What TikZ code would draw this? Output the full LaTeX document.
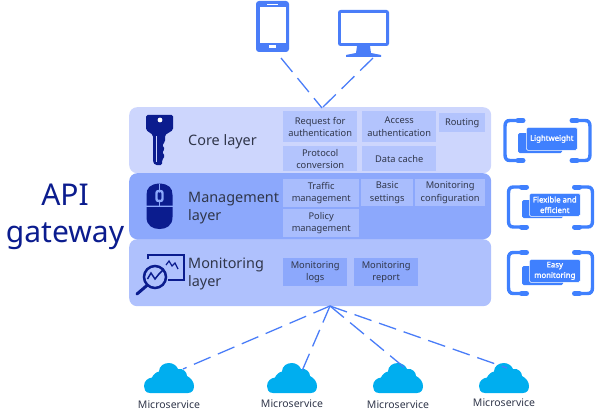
\documentclass[tikz,border=0pt]{standalone}
\usepackage{fontspec}
\setmainfont{Noto Sans}
\usetikzlibrary{positioning, calc}

\definecolor{coreband}{HTML}{CDD6FD}
\definecolor{mgmtband}{HTML}{8CA8FC}
\definecolor{monband}{HTML}{AFC1FD}
\definecolor{coreitem}{HTML}{B3C4FD}
\definecolor{mgmtitem}{HTML}{A9BDFD}
\definecolor{linkblue}{HTML}{4A7DF8}
\definecolor{tagblue}{HTML}{3F80FE}
\definecolor{iconnavy}{HTML}{0B1C8E}
\definecolor{cloudblue}{HTML}{00AEEF}
\definecolor{inktext}{HTML}{30364A}

\newcommand{\itembox}[8]{%
  \node[item, fill=#1, minimum width=#4pt-#2pt, minimum height=#5pt-#3pt, anchor=north west] (#6) at (#2,#3) {#7\\#8};
}

\begin{document}
\begin{tikzpicture}[
  x=1pt, y=-1pt,
  band/.style={rectangle, rounded corners=8pt, minimum width=362pt, anchor=north west, inner sep=0pt},
  item/.style={rectangle, inner sep=0pt, align=center, font=\fontsize{9.3}{12.2}\selectfont, text=inktext},
  layer/.style={align=left, anchor=west, inner sep=0pt, font=\fontsize{14.4}{18.5}\selectfont, text=inktext},
  link/.style={linkblue, line width=1.3pt, dash pattern=on 18pt off 8pt},
  tagline/.style={tagblue, line width=3.4pt, line cap=round},
  tagblob/.style={tagblue, line width=5pt, line cap=round},
  tagtext/.style={rectangle, rounded corners=1.5pt, fill=tagblue, draw=white, line width=0.6pt, text=white, inner sep=0pt, align=center, font=\fontsize{7.8}{10.5}\selectfont\addfontfeature{FakeBold=1.5}},
  cloudlabel/.style={font=\fontsize{10.5}{12}\selectfont, text=inktext}
]
  \useasboundingbox (0,0) rectangle (595,420);

  % layers
  \node[band, fill=coreband, minimum height=66pt] (core) at (129,107) {};
  \node[band, fill=monband, minimum height=67pt] (mon) at (129,239) {};
  \node[band, fill=mgmtband, minimum height=66pt] (mgmt) at (129,173) {};

  \node[layer] (corename) at (188,142) {Core layer};
  \node[layer] (mgmtname) at (188,208) {Management\\layer};
  \node[layer] (monname) at (188,274) {Monitoring\\layer};
  \node[align=center, text=iconnavy, font=\fontsize{30}{37}\selectfont] (title) at (65,217) {API\\gateway};

  % items
  \itembox{coreitem}{283}{111}{357}{142}{reqauth}{Request for}{authentication}
  \itembox{coreitem}{283}{146}{357}{171}{protocol}{Protocol}{conversion}
  \itembox{coreitem}{362}{111}{436}{142}{accauth}{Access}{authentication}
  \node[item, fill=coreitem, minimum width=74pt, minimum height=25pt, anchor=north west] (cache) at (362,146) {Data cache};
  \node[item, fill=coreitem, minimum width=46pt, minimum height=19pt, anchor=north west] (routing) at (439,113) {Routing};
  \itembox{mgmtitem}{283}{179}{359}{207}{traffic}{Traffic}{management}
  \itembox{mgmtitem}{283}{209}{359}{237}{policy}{Policy}{management}
  \itembox{mgmtitem}{361}{179}{413}{206}{basic}{Basic}{settings}
  \itembox{mgmtitem}{415}{179}{485}{206}{monconf}{Monitoring}{configuration}
  \itembox{mgmtband}{283}{258}{347}{286}{monlogs}{Monitoring}{logs}
  \itembox{mgmtband}{354}{258}{418}{286}{monreport}{Monitoring}{report}

  % key
  \fill[iconnavy, rounded corners=1.5pt] (146,115) -- (173,115) -- (173,130) -- (165,135) -- (165,142) -- (162,145) -- (165,149) -- (162,152) -- (165,156) -- (162,160) -- (162,165) -- (155,165) -- (153,162) -- (153,135) -- (146,130) -- cycle;
  \fill[white] (160,120) circle (2.4);
  \draw[coreband, line width=0.9pt] (156,136) -- (156,162);

  % mouse
  \fill[iconnavy] (146.5,207) -- (172.5,207) -- (172.5,217) .. controls (172.5,226) and (166,229) .. (159.5,229) .. controls (153,229) and (146.5,226) .. (146.5,217) -- cycle;
  \fill[iconnavy] (146.5,205.5) -- (146.5,195) .. controls (146.5,188) and (150,184) .. (159.5,183.5) .. controls (169,184) and (172.5,188) .. (172.5,195) -- (172.5,205.5) -- cycle;
  \draw[mgmtband, line width=0.8pt] (159.5,183.5) -- (159.5,205.5);
  \draw[mgmtband, line width=2.4pt, rounded corners=2pt] (156.5,191) rectangle (162.5,201);
  \fill[iconnavy, rounded corners=1pt] (158,192.5) rectangle (161,199.5);

  % monitor and lens
  \draw[iconnavy, line width=2pt] (148,259) -- (148,254.5) -- (184,254.5) -- (184,279.5) -- (168,279.5);
  \draw[iconnavy, line width=1.2pt] (166,265) -- (169,261) -- (172,266) -- (175,263) -- (178,269);
  \draw[iconnavy, line width=2.5pt] (155,277) circle (11);
  \draw[iconnavy, line width=1.5pt] (147.5,279) -- (151,273) -- (155,279) -- (159,274) -- (163,270);
  \draw[iconnavy, line width=3pt, line cap=round] (147.5,285) -- (137,294);

  % phone
  \fill[linkblue, rounded corners=3pt] (256,1) rectangle (289,52);
  \fill[white] (259.5,7) rectangle (285.5,43);
  \fill[white] (269,45.5) rectangle (276,48.5);
  \draw[white, line width=0.6pt] (267,4) -- (278,4);
  \coordinate (phone) at (281,58);

  % desktop
  \fill[linkblue, rounded corners=2.5pt] (338,10) rectangle (389,46);
  \fill[white] (341,13.5) rectangle (386,43);
  \fill[linkblue] (357,46) -- (370,46) -- (371,53) -- (381,55) -- (381,57) -- (346,57) -- (346,55) -- (356,53) -- cycle;
  \coordinate (desktop) at (373,58);

  \coordinate (tophub) at (322,108);
  \draw[link] (phone) -- (tophub);
  \draw[link] (desktop) -- (tophub);

  % clouds
  \foreach \cx/\ly/\cname in {144/405/one, 267/404/two, 373/405/three, 479/403/four} {
    \fill[cloudblue, shift={(\cx,363)}] (6,30) .. controls (1,30) and (0,26) .. (0,23) .. controls (0,18) and (4,15) .. (8,14.5) .. controls (9,12) and (12,9) .. (15,8.5) .. controls (15,3) and (20,0) .. (25,0) .. controls (29,0) and (33,3) .. (34,6) .. controls (39,5) and (43,9) .. (43,13) .. controls (47,15) and (50,19) .. (50,23) .. controls (50,27) and (48,30) .. (44,30) -- cycle;
    \node[cloudlabel] (label\cname) at (\cx+25,\ly) {Microservice};
  }
  \coordinate (bothub) at (330,306);
  \coordinate (endone) at (183,369);
  \coordinate (endtwo) at (302,371);
  \coordinate (endthree) at (405,368);
  \coordinate (endfour) at (507,368);
  \foreach \cname in {one, two, three, four}
    \draw[link] (bothub) -- (end\cname);

  % tags
  \foreach \lx/\rx/\ty/\by/\bx/\bt/\bb/\bh/\ft/\fb/\fx/\fw/\tagname in {
    505/590/120.5/160.5/518/133/153/44/127/150/526/51/Lightweight,
    508.5/592.5/187/227/522/200/218/41/193/216/529/51/{Flexible and\\efficient},
    508.5/592.5/252.5/293.5/522/266/285/41/259/282/529/51/{Easy\\monitoring}} {
    \draw[tagline] (\lx+18,\ty) -- (\lx+5,\ty) .. controls (\lx+1.5,\ty) and (\lx,\ty+2) .. (\lx,\ty+6) -- (\lx,\by-6) .. controls (\lx,\by-2) and (\lx+1.5,\by) .. (\lx+5,\by) -- (\lx+18,\by);
    \draw[tagline] (\rx-18,\ty) -- (\rx-5,\ty) .. controls (\rx-1.5,\ty) and (\rx,\ty+2) .. (\rx,\ty+6) -- (\rx,\by-6) .. controls (\rx,\by-2) and (\rx-1.5,\by) .. (\rx-5,\by) -- (\rx-18,\by);
    \draw[tagblob] (\lx+13,\ty) -- (\lx+18,\ty) (\lx+13,\by) -- (\lx+18,\by) (\rx-13,\ty) -- (\rx-18,\ty) (\rx-13,\by) -- (\rx-18,\by);
    \fill[tagblue, rounded corners=1.5pt] (\bx,\bt) rectangle (\bx+\bh,\bb);
    \node[tagtext, minimum width=\fw pt, minimum height=\fb pt-\ft pt, anchor=north west] at (\fx,\ft) {\tagname};
  }
\end{tikzpicture}
\end{document}
